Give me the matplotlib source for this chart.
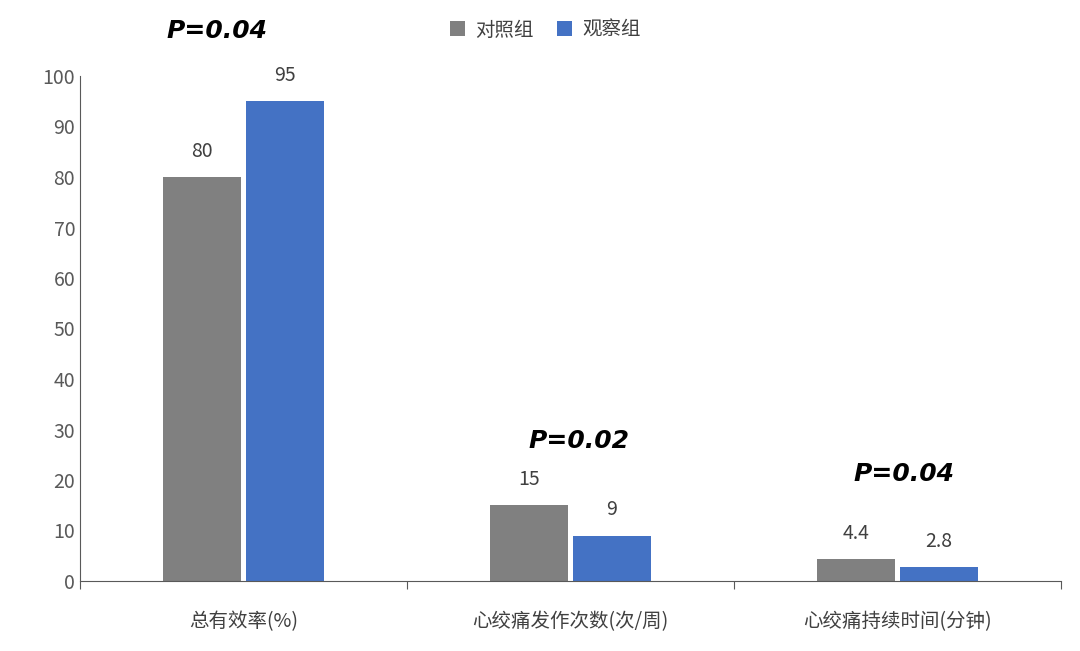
import matplotlib
matplotlib.use("Agg")
import matplotlib.pyplot as plt
import numpy as np

plt.rcParams['font.family'] = ['Noto Sans CJK SC', 'DejaVu Sans']

categories = ["总有效率(%)", "心绞痛发作次数(次/周)", "心绞痛持续时间(分钟)"]
control = [80, 15, 4.4]
observe = [95, 9, 2.8]
control_lbl = ["80", "15", "4.4"]
observe_lbl = ["95", "9", "2.8"]
pvals = ["P=0.04", "P=0.02", "P=0.04"]
p_y = [109, 27.7, 21.2]
p_dx = [-0.08, 0.025, 0.02]

fig = plt.figure(figsize=(10.8, 6.51), dpi=100)
ax = fig.add_axes([80/1080, 1-581/651, 981/1080, 505/651])
x = np.arange(3)
w = 0.237
ax.bar(x - w/2 - 0.008, control, w, color="#808080", label="对照组")
ax.bar(x + w/2 + 0.008, observe, w, color="#4472C4", label="观察组")
for i in range(3):
    ax.text(x[i] - w/2 - 0.008, control[i] + 3, control_lbl[i], ha="center", va="bottom", fontsize=14, color="#404040")
    ax.text(x[i] + w/2 + 0.008, observe[i] + 3, observe_lbl[i], ha="center", va="bottom", fontsize=14, color="#404040")
    ax.text(x[i] + p_dx[i], p_y[i], pvals[i], ha="center", va="center", fontsize=18,
            fontweight="bold", fontstyle="italic", family="DejaVu Sans", clip_on=False)
ax.set_xlim(-0.5, 2.5)
ax.set_ylim(0, 100)
ax.set_yticks(range(0, 101, 10))
ax.tick_params(axis="y", labelsize=14, colors="#595959", length=0)
ax.set_xticks([-0.5, 0.5, 1.5, 2.5], minor=False)
ax.set_xticklabels([])
ax.tick_params(axis="x", length=6, color="#595959")
ax.set_xticks(x, minor=True)
ax.set_xticklabels(categories, minor=True)
ax.tick_params(axis="x", which="minor", length=0, labelsize=14, colors="#404040", pad=22)
for s in ["top", "right"]:
    ax.spines[s].set_visible(False)
ax.spines["left"].set_color("#595959")
ax.spines["bottom"].set_color("#595959")
fig.legend(loc="center", bbox_to_anchor=(545/1080, 1-30/651), ncol=2, frameon=False,
           fontsize=14, handlelength=0.8, handleheight=0.8, columnspacing=1.2, handletextpad=0.5,
           labelcolor="#404040")
fig.savefig("out.png", dpi=100)
